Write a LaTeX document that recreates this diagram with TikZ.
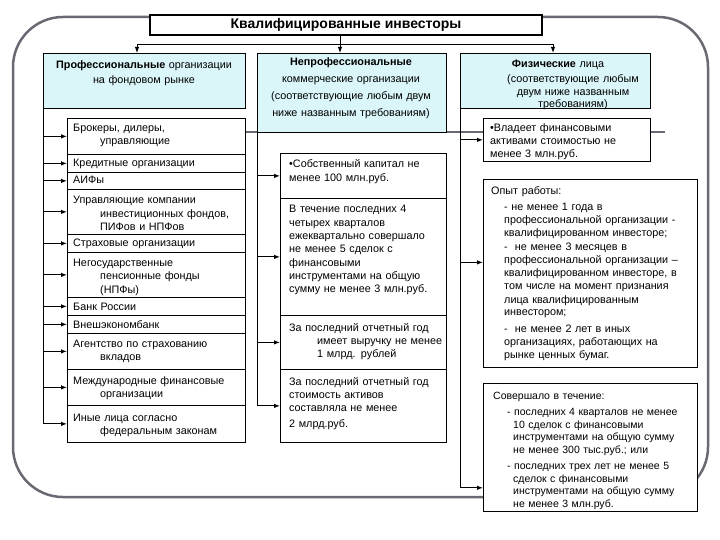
\documentclass[tikz,border=0pt]{standalone}
\usepackage{fontspec}
\setmainfont{Liberation Sans}
\usetikzlibrary{arrows.meta,calc}
\definecolor{hdr}{RGB}{218,246,249}
\definecolor{frm}{RGB}{105,105,115}
\begin{document}
\begin{tikzpicture}[x=1pt,y=-1pt,
  outerframe/.style={draw=frm,line width=2.5pt,rounded corners=50pt},
  titlebox/.style={draw=black,line width=2.2pt,fill=white,inner sep=0pt,font=\fontsize{14}{16}\selectfont\bfseries},
  hbox/.style={draw=black,line width=0.8pt,fill=hdr,inner sep=0pt,anchor=north west},
  ibox/.style={draw=black,line width=0.8pt,fill=white,inner sep=0pt,anchor=north west},
  txt/.style={inner sep=0pt,anchor=base west,align=left,text width=#1,font=\fontsize{10.8}{13}\selectfont},
  txt/.default=170pt,
  ctxt/.style={inner sep=0pt,anchor=base,align=center,text width=#1,font=\fontsize{10.8}{13}\selectfont},
  ctxt/.default=190pt,
  arr/.style={draw=black,line width=1pt,-{Latex[length=6pt,width=4.5pt]}},
  ln/.style={draw=black,line width=1pt}]
\useasboundingbox (0,0) rectangle (720,540);
% outer frame and separator
\draw[outerframe] (13,17) rectangle (708,497);
\draw[draw=frm,line width=2.5pt] (67,132) -- (665,132);
% title
\node[titlebox,minimum width=392pt,minimum height=20pt] (T) at (346,25) {Квалифицированные инвесторы};
% headers
\node[hbox,minimum width=202pt,minimum height=55pt] (lh) at (43,53) {};
\node[hbox,minimum width=189pt,minimum height=79pt] (mh) at (257,53) {};
\node[hbox,minimum width=190pt,minimum height=55pt] (rh) at (460,53) {};
\node[ctxt=202pt,font=\fontsize{10.8}{15}\selectfont] (tlh) at (144,69) {\textbf{Профессиональные} организации\\на фондовом рынке};
\node[ctxt=189pt,font=\fontsize{10.8}{17}\selectfont] (tmh) at (351,66) {\textbf{Непрофессиональные}\\коммерческие организации\\(соответствующие любым двум\\ниже названным требованиям)};
\node[ctxt] (trh1) at (558,68) {\textbf{Физические} лица};
\node[ctxt,font=\fontsize{10.8}{12.5}\selectfont] (trh2) at (573,83) {(соответствующие любым\\двум ниже названным\\требованиям)};
% top connectors
\coordinate (j) at (340,45);
\coordinate (jl) at (137,45);
\coordinate (jr) at (553,45);
\draw[ln] (T.south -| j) -- (j);
\draw[arr] (j) -- (j |- mh.north);
\draw[arr] (j) -- (jl) -- (jl |- lh.north);
\draw[arr] (j) -- (jr) -- (jr |- rh.north);
% left items
\node[ibox,minimum width=178pt,minimum height=36pt] (l1) at (67,118) {};
\node[ibox,minimum width=178pt,minimum height=18pt] (l2) at (67,154) {};
\node[ibox,minimum width=178pt,minimum height=17pt] (l3) at (67,172) {};
\node[ibox,minimum width=178pt,minimum height=45pt] (l4) at (67,189) {};
\node[ibox,minimum width=178pt,minimum height=18pt] (l5) at (67,234) {};
\node[ibox,minimum width=178pt,minimum height=45pt] (l6) at (67,252) {};
\node[ibox,minimum width=178pt,minimum height=18pt] (l7) at (67,297) {};
\node[ibox,minimum width=178pt,minimum height=18pt] (l8) at (67,315) {};
\node[ibox,minimum width=178pt,minimum height=36pt] (l9) at (67,333) {};
\node[ibox,minimum width=178pt,minimum height=36pt] (l10) at (67,369) {};
\node[ibox,minimum width=178pt,minimum height=37pt] (l11) at (67,405) {};
\node[txt] (tl1) at (73,132) {Брокеры, дилеры,\\\hspace*{27pt}управляющие};
\node[txt] (tl2) at (73,167) {Кредитные организации};
\node[txt] (tl3) at (73,184) {АИФы};
\node[txt,font=\fontsize{10.8}{13.5}\selectfont] (tl4) at (73,204) {Управляющие компании\\\hspace*{27pt}инвестиционных фондов,\\\hspace*{27pt}ПИФов и НПФов};
\node[txt] (tl5) at (73,247) {Страховые организации};
\node[txt,font=\fontsize{10.8}{13.5}\selectfont] (tl6) at (73,266) {Негосударственные\\\hspace*{27pt}пенсионные фонды\\\hspace*{27pt}(НПФы)};
\node[txt] (tl7) at (73,310) {Банк России};
\node[txt] (tl8) at (73,328) {Внешэкономбанк};
\node[txt] (tl9) at (73,347) {Агентство по страхованию\\\hspace*{27pt}вкладов};
\node[txt] (tl10) at (73,384) {Международные финансовые\\\hspace*{27pt}организации};
\node[txt] (tl11) at (73,421) {Иные лица согласно\\\hspace*{27pt}федеральным законам};
\foreach \b in {l1,l2,l3,l4,l5,l6,l7,l8,l9,l10,l11}
  \draw[arr] (lh.south west) |- (\b.west);
% middle items
\node[ibox,minimum width=166pt,minimum height=45pt] (m1) at (280,153) {};
\node[ibox,minimum width=166pt,minimum height=117pt] (m2) at (280,198) {};
\node[ibox,minimum width=166pt,minimum height=54pt] (m3) at (280,315) {};
\node[ibox,minimum width=166pt,minimum height=73pt] (m4) at (280,369) {};
\node[txt=160pt,font=\fontsize{10.8}{14}\selectfont] (tm1) at (289,168) {•Собственный капитал не\\менее 100 млн.руб.};
\node[txt=160pt,font=\fontsize{10.8}{13.3}\selectfont] (tm2) at (289,213) {В течение последних 4\\четырех кварталов\\ежеквартально совершало\\не менее 5 сделок с\\финансовыми\\инструментами на общую\\сумму не менее 3 млн.руб.};
\node[txt=160pt] (tm3) at (289,331) {За последний отчетный год\\\hspace*{28pt}имеет выручку не менее\\\hspace*{28pt}1 млрд. рублей};
\node[txt=160pt] (tm4) at (289,385) {За последний отчетный год\\стоимость активов\\составляла не менее\\[3pt]2 млрд.руб.};
\foreach \b in {m1,m2,m3,m4}
  \draw[arr] (mh.south west) |- (\b.west);
% right items
\node[ibox,minimum width=167pt,minimum height=43pt] (r1) at (483,118) {};
\node[ibox,minimum width=214pt,minimum height=188pt] (r2) at (483,179) {};
\node[ibox,minimum width=214pt,minimum height=128pt] (r3) at (483,383) {};
\node[txt=160pt] (tr1) at (490,132) {•Владеет финансовыми\\активами стоимостью не\\менее 3 млн.руб.};
\node[txt=205pt] (tr2) at (491,195) {Опыт работы:\\[3pt]
\hspace*{13pt}- не менее 1 года в\\
\hspace*{13pt}профессиональной организации -\\
\hspace*{13pt}квалифицированном инвесторе;\\[1pt]
\hspace*{13pt}-\ \ не менее 3 месяцев в\\
\hspace*{13pt}профессиональной организации –\\
\hspace*{13pt}квалифицированном инвесторе, в\\
\hspace*{13pt}том числе на момент признания\\
\hspace*{13pt}лица квалифицированным\\
\hspace*{13pt}инвестором;\\[4pt]
\hspace*{13pt}-\ \ не менее 2 лет в иных\\
\hspace*{13pt}организациях, работающих на\\
\hspace*{13pt}рынке ценных бумаг.};
\node[txt=205pt,font=\fontsize{10.5}{12.5}\selectfont] (tr3) at (493,399) {Совершало в течение:\\[4pt]
\hspace*{14pt}- последних 4 кварталов не менее\\
\hspace*{20pt}10 сделок с финансовыми\\
\hspace*{20pt}инструментами на общую сумму\\
\hspace*{20pt}не менее 300 тыс.руб.; или\\[4pt]
\hspace*{14pt}- последних трех лет не менее 5\\
\hspace*{20pt}сделок с финансовыми\\
\hspace*{20pt}инструментами на общую сумму\\
\hspace*{20pt}не менее 3 млн.руб.};
\draw[arr] (rh.south west) |- (r1.west);
\draw[arr] (rh.south west) |- ([yshift=11pt]r2.west);
\draw[arr] (rh.south west) |- ([yshift=24pt]r3.south west);
\end{tikzpicture}
\end{document}
